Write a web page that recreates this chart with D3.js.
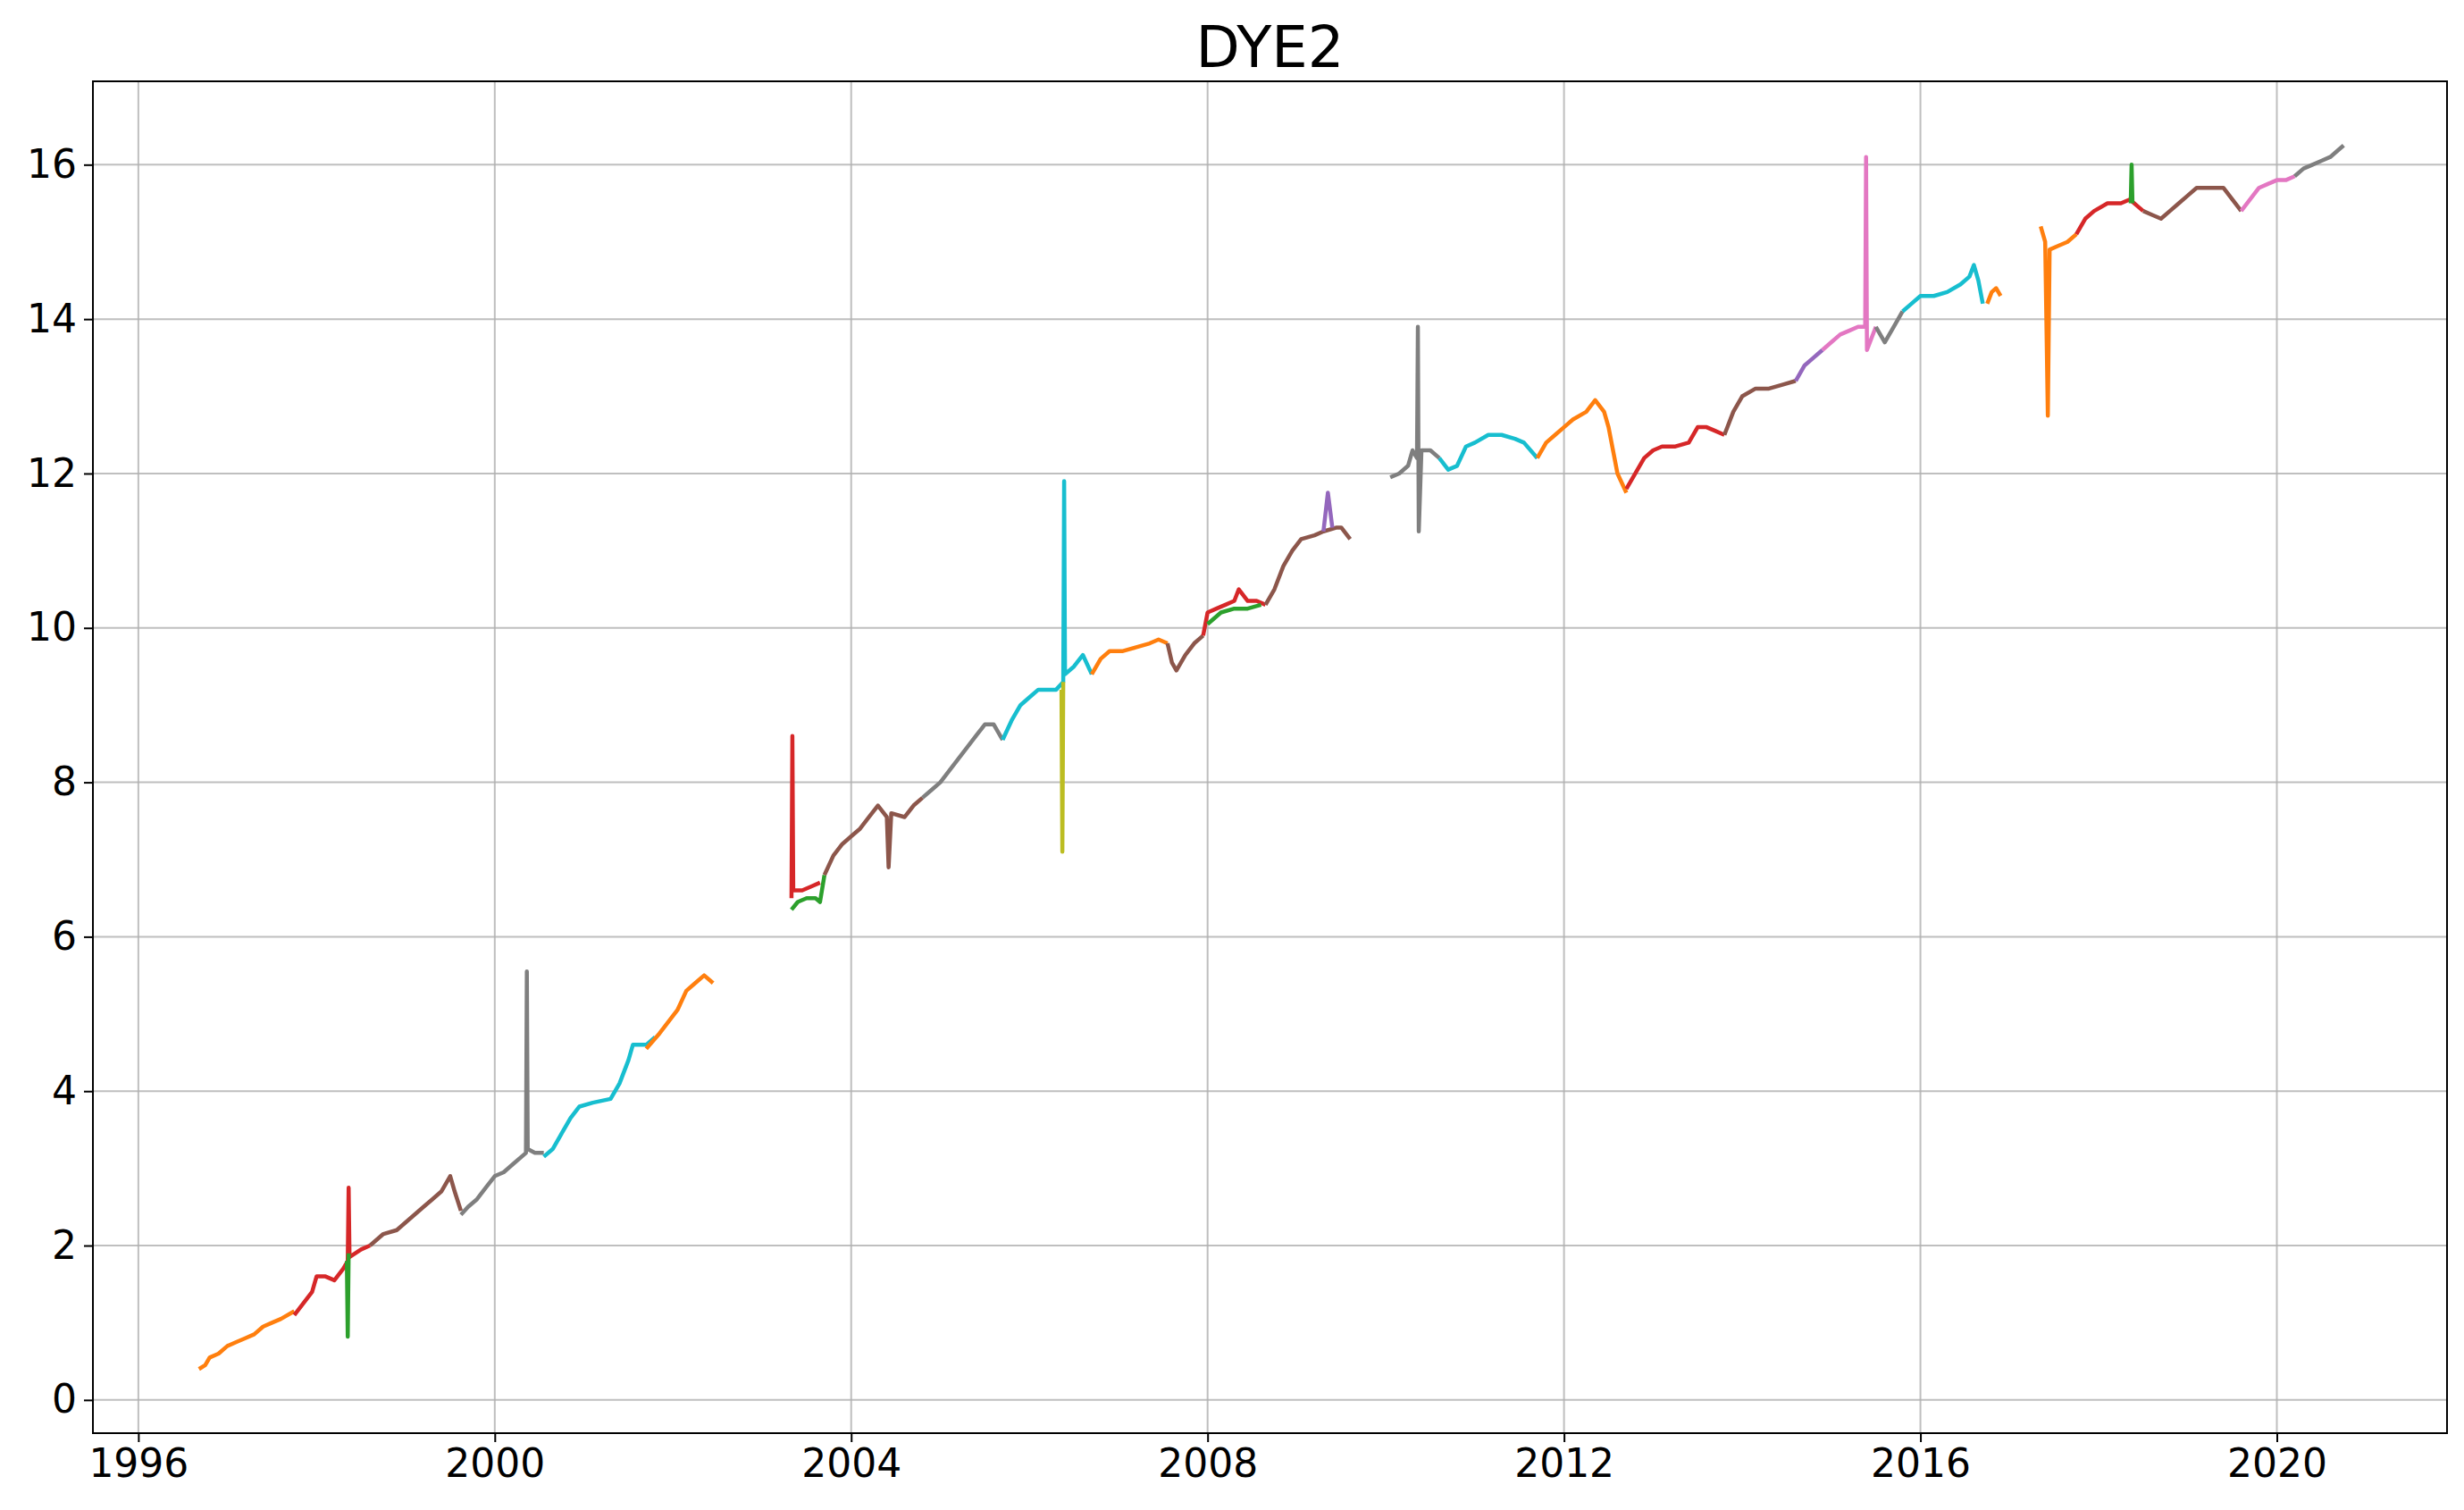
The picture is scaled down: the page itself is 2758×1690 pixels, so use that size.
<!DOCTYPE html>
<html><head><meta charset="utf-8">
<script src="https://cdn.jsdelivr.net/npm/d3@7"></script>
<style>body{margin:0;background:#fff}svg{font-family:"DejaVu Sans",sans-serif}</style>
</head><body><svg id="chart" width="2758" height="1690"></svg>
<script>
var title = 'DYE2';
var xTicks = [1996, 2000, 2004, 2008, 2012, 2016, 2020];
var yTicks = [0, 2, 4, 6, 8, 10, 12, 14, 16];
var palette = {blue:'#1f77b4', orange:'#ff7f0e', green:'#2ca02c', red:'#d62728', purple:'#9467bd',
	brown:'#8c564b', pink:'#e377c2', gray:'#7f7f7f', olive:'#bcbd22', cyan:'#17becf'};

// each segment: [colour, points as [year, value]]
var segColors = ['orange','red','green','brown','gray','cyan','orange','red','green','brown','gray','cyan','olive','orange','brown','red','green','brown','purple',
	'gray','cyan','orange','red','brown','purple','pink','gray','cyan','orange','orange','red','green','brown','pink','gray'];
var segPoints = [
	[[1996.68,0.4],[1996.75,0.45],[1996.8,0.55],[1996.9,0.6],[1997.0,0.7],[1997.1,0.75],[1997.2,0.8],[1997.3,0.85],[1997.4,0.95],[1997.5,1.0],[1997.6,1.05],[1997.75,1.15]],
	[[1997.75,1.1],[1997.85,1.25],[1997.95,1.4],[1998.0,1.6],[1998.1,1.6],[1998.2,1.55],[1998.3,1.7],[1998.35,1.8],[1998.36,2.75],[1998.37,1.85],[1998.5,1.95],[1998.6,2.0]],
	[[1998.34,1.8],[1998.35,0.82],[1998.36,1.9]],
	[[1998.6,2.0],[1998.75,2.15],[1998.9,2.2],[1999.05,2.35],[1999.2,2.5],[1999.3,2.6],[1999.4,2.7],[1999.5,2.9],[1999.55,2.7],[1999.62,2.45]],
	[[1999.62,2.4],[1999.7,2.5],[1999.8,2.6],[1999.9,2.75],[2000.0,2.9],[2000.1,2.95],[2000.2,3.05],[2000.35,3.2],[2000.36,5.55],[2000.37,3.25],[2000.45,3.2],[2000.55,3.2]],
	[[2000.55,3.15],[2000.65,3.25],[2000.75,3.45],[2000.85,3.65],[2000.95,3.8],[2001.1,3.85],[2001.3,3.9],[2001.4,4.1],[2001.5,4.4],[2001.55,4.6],[2001.7,4.6],[2001.8,4.7]],
	[[2001.7,4.55],[2001.85,4.75],[2001.95,4.9],[2002.05,5.05],[2002.15,5.3],[2002.25,5.4],[2002.35,5.5],[2002.45,5.4]],
	[[2003.33,6.5],[2003.34,8.6],[2003.35,6.6],[2003.45,6.6],[2003.55,6.65],[2003.65,6.7]],
	[[2003.33,6.35],[2003.4,6.45],[2003.5,6.5],[2003.6,6.5],[2003.65,6.45],[2003.7,6.8]],
	[[2003.7,6.8],[2003.8,7.05],[2003.9,7.2],[2004.0,7.3],[2004.1,7.4],[2004.2,7.55],[2004.3,7.7],[2004.4,7.55],[2004.42,6.9],[2004.45,7.6],[2004.6,7.55],[2004.7,7.7],[2004.8,7.8]],
	[[2004.8,7.8],[2004.9,7.9],[2005.0,8.0],[2005.1,8.15],[2005.2,8.3],[2005.3,8.45],[2005.4,8.6],[2005.5,8.75],[2005.6,8.75],[2005.7,8.55]],
	[[2005.7,8.55],[2005.8,8.8],[2005.9,9.0],[2006.0,9.1],[2006.1,9.2],[2006.2,9.2],[2006.3,9.2],[2006.38,9.3],[2006.39,11.9],[2006.4,9.4],[2006.5,9.5],[2006.6,9.65],[2006.7,9.4]],
	[[2006.36,9.2],[2006.37,7.1],[2006.38,9.3]],
	[[2006.7,9.4],[2006.8,9.6],[2006.9,9.7],[2007.05,9.7],[2007.2,9.75],[2007.35,9.8],[2007.45,9.85],[2007.55,9.8]],
	[[2007.55,9.8],[2007.6,9.55],[2007.65,9.45],[2007.75,9.65],[2007.85,9.8],[2007.95,9.9]],
	[[2007.95,9.9],[2008.0,10.2],[2008.1,10.25],[2008.2,10.3],[2008.3,10.35],[2008.35,10.5],[2008.45,10.35],[2008.55,10.35],[2008.65,10.3]],
	[[2008.0,10.05],[2008.15,10.2],[2008.3,10.25],[2008.45,10.25],[2008.6,10.3]],
	[[2008.65,10.3],[2008.75,10.5],[2008.85,10.8],[2008.95,11.0],[2009.05,11.15],[2009.2,11.2],[2009.3,11.25],[2009.45,11.3],[2009.5,11.3],[2009.6,11.15]],
	[[2009.3,11.25],[2009.35,11.75],[2009.4,11.3]],
	[[2010.05,11.95],[2010.15,12.0],[2010.25,12.1],[2010.3,12.3],[2010.35,12.2],[2010.36,13.9],[2010.37,11.25],[2010.4,12.3],[2010.5,12.3],[2010.6,12.2]],
	[[2010.6,12.2],[2010.7,12.05],[2010.8,12.1],[2010.9,12.35],[2011.0,12.4],[2011.15,12.5],[2011.3,12.5],[2011.45,12.45],[2011.55,12.4],[2011.7,12.2]],
	[[2011.7,12.2],[2011.8,12.4],[2011.9,12.5],[2012.0,12.6],[2012.1,12.7],[2012.25,12.8],[2012.35,12.95],[2012.45,12.8],[2012.5,12.6],[2012.6,12.0],[2012.7,11.75]],
	[[2012.7,11.8],[2012.8,12.0],[2012.9,12.2],[2013.0,12.3],[2013.1,12.35],[2013.25,12.35],[2013.4,12.4],[2013.5,12.6],[2013.6,12.6],[2013.7,12.55],[2013.8,12.5]],
	[[2013.8,12.5],[2013.9,12.8],[2014.0,13.0],[2014.15,13.1],[2014.3,13.1],[2014.45,13.15],[2014.6,13.2]],
	[[2014.6,13.2],[2014.7,13.4],[2014.8,13.5],[2014.9,13.6]],
	[[2014.9,13.6],[2015.0,13.7],[2015.1,13.8],[2015.2,13.85],[2015.3,13.9],[2015.38,13.9],[2015.39,16.1],[2015.4,13.6],[2015.5,13.9]],
	[[2015.5,13.9],[2015.6,13.7],[2015.7,13.9],[2015.8,14.1]],
	[[2015.8,14.1],[2015.9,14.2],[2016.0,14.3],[2016.15,14.3],[2016.3,14.35],[2016.45,14.45],[2016.55,14.55],[2016.6,14.7],[2016.65,14.5],[2016.7,14.2]],
	[[2016.75,14.2],[2016.8,14.35],[2016.85,14.4],[2016.9,14.3]],
	[[2017.35,15.2],[2017.4,15.0],[2017.43,12.75],[2017.45,14.9],[2017.55,14.95],[2017.65,15.0],[2017.75,15.1]],
	[[2017.75,15.1],[2017.85,15.3],[2017.95,15.4],[2018.1,15.5],[2018.25,15.5],[2018.35,15.55],[2018.45,15.45],[2018.5,15.4]],
	[[2018.36,15.5],[2018.37,16.0],[2018.38,15.5]],
	[[2018.5,15.4],[2018.6,15.35],[2018.7,15.3],[2018.8,15.4],[2018.9,15.5],[2019.0,15.6],[2019.1,15.7],[2019.25,15.7],[2019.4,15.7],[2019.5,15.55],[2019.6,15.4]],
	[[2019.6,15.4],[2019.7,15.55],[2019.8,15.7],[2019.9,15.75],[2020.0,15.8],[2020.1,15.8],[2020.2,15.85]],
	[[2020.2,15.85],[2020.3,15.95],[2020.4,16.0],[2020.5,16.05],[2020.6,16.1],[2020.7,16.2],[2020.75,16.25]]
];

var margin = {left: 104, right: 19, top: 91, bottom: 86};
var svg = d3.select('#chart');
var W = 2758, H = 1690;
var x = d3.scaleLinear().domain([1995.49, 2021.91]).range([margin.left, W - margin.right]);
var y = d3.scaleLinear().domain([-0.43, 17.08]).range([H - margin.bottom, margin.top]);

// grid
svg.append('g').selectAll('line').data(xTicks).enter().append('line')
	.attr('x1', function(d){ return x(d); }).attr('x2', function(d){ return x(d); })
	.attr('y1', margin.top).attr('y2', H - margin.bottom)
	.attr('stroke', '#b0b0b0').attr('stroke-width', 2).attr('opacity', 0.8);
svg.append('g').selectAll('line').data(yTicks).enter().append('line')
	.attr('y1', function(d){ return y(d); }).attr('y2', function(d){ return y(d); })
	.attr('x1', margin.left).attr('x2', W - margin.right)
	.attr('stroke', '#b0b0b0').attr('stroke-width', 2).attr('opacity', 0.8);

var line = d3.line().x(function(d){ return x(d[0]); }).y(function(d){ return y(d[1]); });
svg.append('g').selectAll('path').data(segPoints).enter().append('path')
	.attr('d', line).attr('fill', 'none')
	.attr('stroke', function(d, i){ return palette[segColors[i]]; })
	.attr('stroke-width', 4.5).attr('stroke-linejoin', 'round');

var xAxis = svg.append('g').attr('transform', 'translate(0,' + (H - margin.bottom) + ')')
	.call(d3.axisBottom(x).tickValues(xTicks).tickFormat(d3.format('d')).tickSize(10).tickPadding(8));
var yAxis = svg.append('g').attr('transform', 'translate(' + margin.left + ',0)')
	.call(d3.axisLeft(y).tickValues(yTicks).tickSize(10).tickPadding(8));
[xAxis, yAxis].forEach(function(a) {
	a.selectAll('text').attr('font-size', 44).attr('fill', '#000').attr('font-family', 'DejaVu Sans');
	a.selectAll('line').attr('stroke-width', 2);
	a.select('.domain').remove();
});

svg.append('rect').attr('x', margin.left).attr('y', margin.top)
	.attr('width', W - margin.left - margin.right).attr('height', H - margin.top - margin.bottom)
	.attr('fill', 'none').attr('stroke', '#000').attr('stroke-width', 2);

svg.append('text').attr('x', (margin.left + W - margin.right) / 2).attr('y', 75)
	.attr('text-anchor', 'middle').attr('font-size', 64).text(title);
</script></body></html>
